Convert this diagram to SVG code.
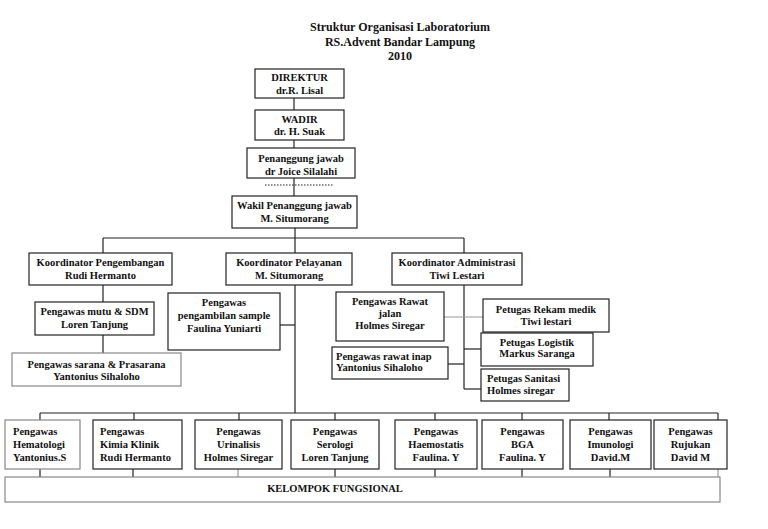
<svg xmlns="http://www.w3.org/2000/svg" width="768" height="529" viewBox="0 0 768 529">
<style>
text{font-family:"Liberation Serif","Times New Roman",serif;font-weight:bold;font-size:10.5px;fill:#111}
.c{text-anchor:middle}
.t{font-size:12px}
rect{fill:#fff;stroke:#222;stroke-width:1.2}
rect.g{stroke:#888}
.ln line{stroke:#222;stroke-width:1.2}
.ln line.g{stroke:#999}
</style>
<rect x="0" y="0" width="768" height="529" style="stroke:none"/>
<g id="title">
<text class="c t" x="400" y="31">Struktur Organisasi Laboratorium</text>
<text class="c t" x="400" y="46">RS.Advent Bandar Lampung</text>
<text class="c t" x="400" y="60">2010</text>
</g>
<g class="ln" id="connectors">
<line x1="294" y1="98" x2="294" y2="110"/>
<line x1="294" y1="140" x2="294" y2="148"/>
<line x1="294" y1="178" x2="294" y2="196"/>
<line x1="265" y1="185" x2="333" y2="185" style="stroke-dasharray:1.5 1.5"/>
<line x1="295" y1="228" x2="295" y2="253"/>
<line x1="103" y1="238" x2="464" y2="238"/>
<line x1="103" y1="238" x2="103" y2="253"/>
<line x1="464" y1="238" x2="464" y2="253"/>
<line x1="103" y1="285" x2="103" y2="302"/>
<line x1="103" y1="335" x2="103" y2="353"/>
<line x1="295" y1="285" x2="295" y2="413"/>
<line x1="280" y1="325" x2="295" y2="325"/>
<line x1="464" y1="285" x2="464" y2="389"/>
<line class="g" x1="444" y1="317" x2="483" y2="317"/>
<line x1="464" y1="349" x2="481" y2="349"/>
<line x1="448" y1="364" x2="464" y2="364"/>
<line x1="464" y1="389" x2="481" y2="389"/>
<line x1="40" y1="413" x2="718" y2="413"/>
<line x1="40" y1="413" x2="40" y2="420"/>
<line x1="134" y1="413" x2="134" y2="420"/>
<line x1="239" y1="413" x2="239" y2="420"/>
<line x1="335" y1="413" x2="335" y2="420"/>
<line x1="435" y1="413" x2="435" y2="420"/>
<line x1="522" y1="413" x2="522" y2="420"/>
<line x1="609" y1="413" x2="609" y2="420"/>
<line x1="718" y1="413" x2="718" y2="420"/>
<line x1="40" y1="469" x2="40" y2="477"/>
<line x1="133" y1="469" x2="133" y2="477"/>
<line class="g" x1="238" y1="469" x2="238" y2="477"/>
<line x1="335" y1="469" x2="335" y2="477"/>
<line x1="435" y1="469" x2="435" y2="477"/>
<line x1="522" y1="469" x2="522" y2="477"/>
<line x1="610" y1="469" x2="610" y2="477"/>
<line class="g" x1="718" y1="469" x2="718" y2="477"/>
</g>
<g id="direktur"><rect x="255" y="69" width="89" height="29"/><text class="c" x="299.5" y="81">DIREKTUR</text><text class="c" x="299.5" y="94">dr.R. Lisal</text></g>
<g id="wadir"><rect x="255" y="110" width="89" height="30"/><text class="c" x="299.5" y="123">WADIR</text><text class="c" x="299.5" y="135">dr. H. Suak</text></g>
<g id="pj"><rect x="247" y="148" width="108" height="30"/><text class="c" x="301" y="162">Penanggung jawab</text><text class="c" x="301" y="175">dr Joice Silalahi</text></g>
<g id="wakil"><rect x="232" y="196" width="125" height="32"/><text class="c" x="294.5" y="209">Wakil Penanggung jawab</text><text class="c" x="294.5" y="222">M. Situmorang</text></g>
<g id="k-pengembangan"><rect x="29" y="253" width="143" height="32"/><text class="c" x="100.5" y="266">Koordinator Pengembangan</text><text class="c" x="100.5" y="279">Rudi Hermanto</text></g>
<g id="k-pelayanan"><rect x="226" y="253" width="126" height="32"/><text class="c" x="289" y="266">Koordinator Pelayanan</text><text class="c" x="289" y="279">M. Situmorang</text></g>
<g id="k-administrasi"><rect x="392" y="253" width="130" height="32"/><text class="c" x="457" y="266">Koordinator Administrasi</text><text class="c" x="457" y="279">Tiwi Lestari</text></g>
<g id="mutu"><rect x="35" y="302" width="119" height="33"/><text class="c" x="94.5" y="315">Pengawas mutu &amp; SDM</text><text class="c" x="94.5" y="328">Loren Tanjung</text></g>
<g id="sarana"><rect class="g" x="12" y="353" width="169" height="33"/><text class="c" x="96.5" y="368">Pengawas sarana &amp; Prasarana</text><text class="c" x="96.5" y="380">Yantonius Sihaloho</text></g>
<g id="pengambilan"><rect x="168" y="293" width="112" height="57"/><text class="c" x="224" y="306">Pengawas</text><text class="c" x="224" y="319">pengambilan sample</text><text class="c" x="224" y="332">Faulina Yuniarti</text></g>
<g id="rawat-jalan"><rect x="336" y="292" width="108" height="49"/><text class="c" x="390" y="305">Pengawas Rawat</text><text class="c" x="390" y="317">jalan</text><text class="c" x="390" y="329">Holmes Siregar</text></g>
<g id="rekam-medik"><rect x="483" y="299" width="126" height="33"/><text class="c" x="546" y="313">Petugas Rekam medik</text><text class="c" x="546" y="325">Tiwi lestari</text></g>
<g id="logistik"><rect x="481" y="333" width="112" height="33"/><text class="c" x="537" y="346">Petugas Logistik</text><text class="c" x="537" y="357">Markus Saranga</text></g>
<g id="rawat-inap"><rect x="332" y="347" width="116" height="32"/><text x="336" y="360">Pengawas rawat inap</text><text x="336" y="371">Yantonius Sihaloho</text></g>
<g id="sanitasi"><rect x="481" y="369" width="88" height="32"/><text x="487" y="382">Petugas Sanitasi</text><text x="487" y="394">Holmes siregar</text></g>
<g id="hematologi"><rect class="g" x="5" y="420" width="75" height="49"/><text x="13" y="435">Pengawas</text><text x="13" y="448">Hematologi</text><text x="13" y="461">Yantonius.S</text></g>
<g id="kimia"><rect x="93" y="420" width="89" height="49"/><text x="100" y="435">Pengawas</text><text x="100" y="448">Kimia Klinik</text><text x="100" y="461">Rudi Hermanto</text></g>
<g id="urinalisis"><rect x="195" y="420" width="87" height="49"/><text class="c" x="238.5" y="435">Pengawas</text><text class="c" x="238.5" y="448">Urinalisis</text><text class="c" x="238.5" y="461">Holmes Siregar</text></g>
<g id="serologi"><rect x="291" y="420" width="88" height="49"/><text class="c" x="335" y="435">Pengawas</text><text class="c" x="335" y="448">Serologi</text><text class="c" x="335" y="461">Loren Tanjung</text></g>
<g id="haemostatis"><rect x="395" y="420" width="82" height="49"/><text class="c" x="436" y="435">Pengawas</text><text class="c" x="436" y="448">Haemostatis</text><text class="c" x="436" y="461">Faulina. Y</text></g>
<g id="bga"><rect x="482" y="420" width="81" height="49"/><text class="c" x="522.5" y="435">Pengawas</text><text class="c" x="522.5" y="448">BGA</text><text class="c" x="522.5" y="461">Faulina. Y</text></g>
<g id="imunologi"><rect x="570" y="420" width="81" height="49"/><text class="c" x="610.5" y="435">Pengawas</text><text class="c" x="610.5" y="448">Imunologi</text><text class="c" x="610.5" y="461">David.M</text></g>
<g id="rujukan"><rect x="654" y="420" width="73" height="49"/><text class="c" x="690.5" y="435">Pengawas</text><text class="c" x="690.5" y="448">Rujukan</text><text class="c" x="690.5" y="461">David M</text></g>
<g id="kelompok"><rect class="g" x="5" y="477" width="715" height="25"/><text class="c" x="335" y="492">KELOMPOK FUNGSIONAL</text></g>
</svg>
